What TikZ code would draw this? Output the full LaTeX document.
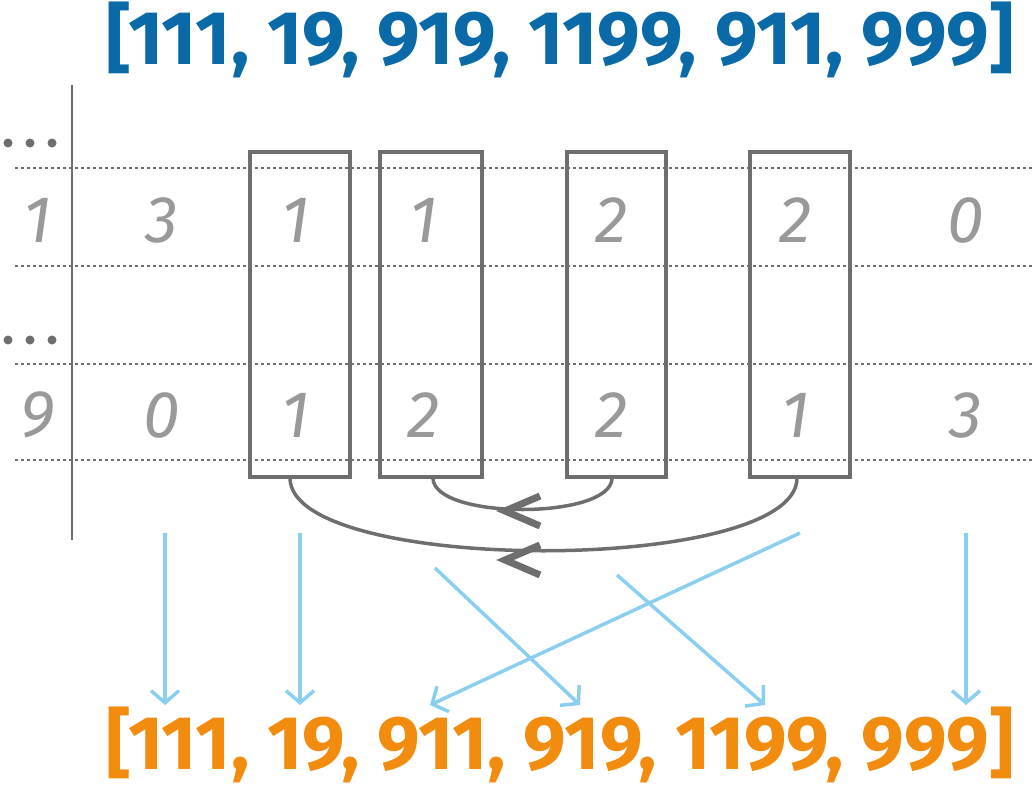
\documentclass[tikz,border=0pt]{standalone}
\usepackage{fontspec}
\setmainfont{Fira Sans}
\usetikzlibrary{arrows.meta}
\definecolor{gr}{HTML}{6E6E6E}
\definecolor{bl}{HTML}{0A6AA8}
\definecolor{org}{HTML}{F28C0F}
\definecolor{lb}{HTML}{8ACFF0}
\begin{document}
\begin{tikzpicture}[x=1pt,y=-1pt,
 dig/.style={text=gray!80,font=\fontsize{66}{70}\selectfont\itshape,inner sep=0},
 lst/.style={font=\fontsize{76}{80}\selectfont\bfseries,inner sep=0},
 col/.style={draw=gr,line width=3.5},
 dot/.style={draw=gr,dashed,line width=1.5},
 ar/.style={draw=lb,line width=3.5,-{Straight Barb[length=12,width=28]}}]
\useasboundingbox (0,0) rectangle (1033,792);
\node[lst,text=bl] (top) at (560,40) {[111, 19, 919, 1199, 911, 999]};
\node[lst,text=org] (bot) at (560,745) {[111, 19, 911, 919, 1199, 999]};
\draw[gr,line width=2] (72,85) -- (72,540);
\foreach \y/\n in {143/d1,340/d2}{
 \coordinate (\n) at (30,\y);
 \foreach \dx in {-22,0,22} \fill[gr] ([xshift=\dx]\n) circle (4.5);}
\foreach \y in {168,266,364,460} \draw[dot] (15,\y) -- (1033,\y);
\foreach \x/\a/\b [count=\i] in {38/1/9,162/3/0,296/1/1,424/1/2,612/2/2,796/2/1,966/0/3}{
 \node[dig] (a\i) at (\x,220) {\a};
 \node[dig] (b\i) at (\x,415) {\b};}
\foreach \l/\r [count=\i] in {250/350,380/482,567/666,750/850}
 \draw[col] (\l,152) rectangle (\r,477);
\draw[col] (433,478) .. controls (433,520) and (612,520) .. (612,478);
\draw[col] (290,478) .. controls (290,575) and (797,575) .. (797,478);
\draw[gr,line width=7] (540,496) -- (505,511) -- (540,526);
\draw[gr,line width=7] (540,545) -- (505,560) -- (540,575);
\coordinate (s1) at (165,533); \coordinate (e1) at (165,705);
\coordinate (s2) at (300,533); \coordinate (e2) at (300,705);
\coordinate (s3) at (435,568); \coordinate (e3) at (580,705);
\coordinate (s4) at (617,575); \coordinate (e4) at (765,705);
\coordinate (s5) at (800,533); \coordinate (e5) at (430,705);
\coordinate (s6) at (966,533); \coordinate (e6) at (966,705);
\foreach \i in {1,...,6} \draw[ar] (s\i) -- (e\i);
\end{tikzpicture}
\end{document}
